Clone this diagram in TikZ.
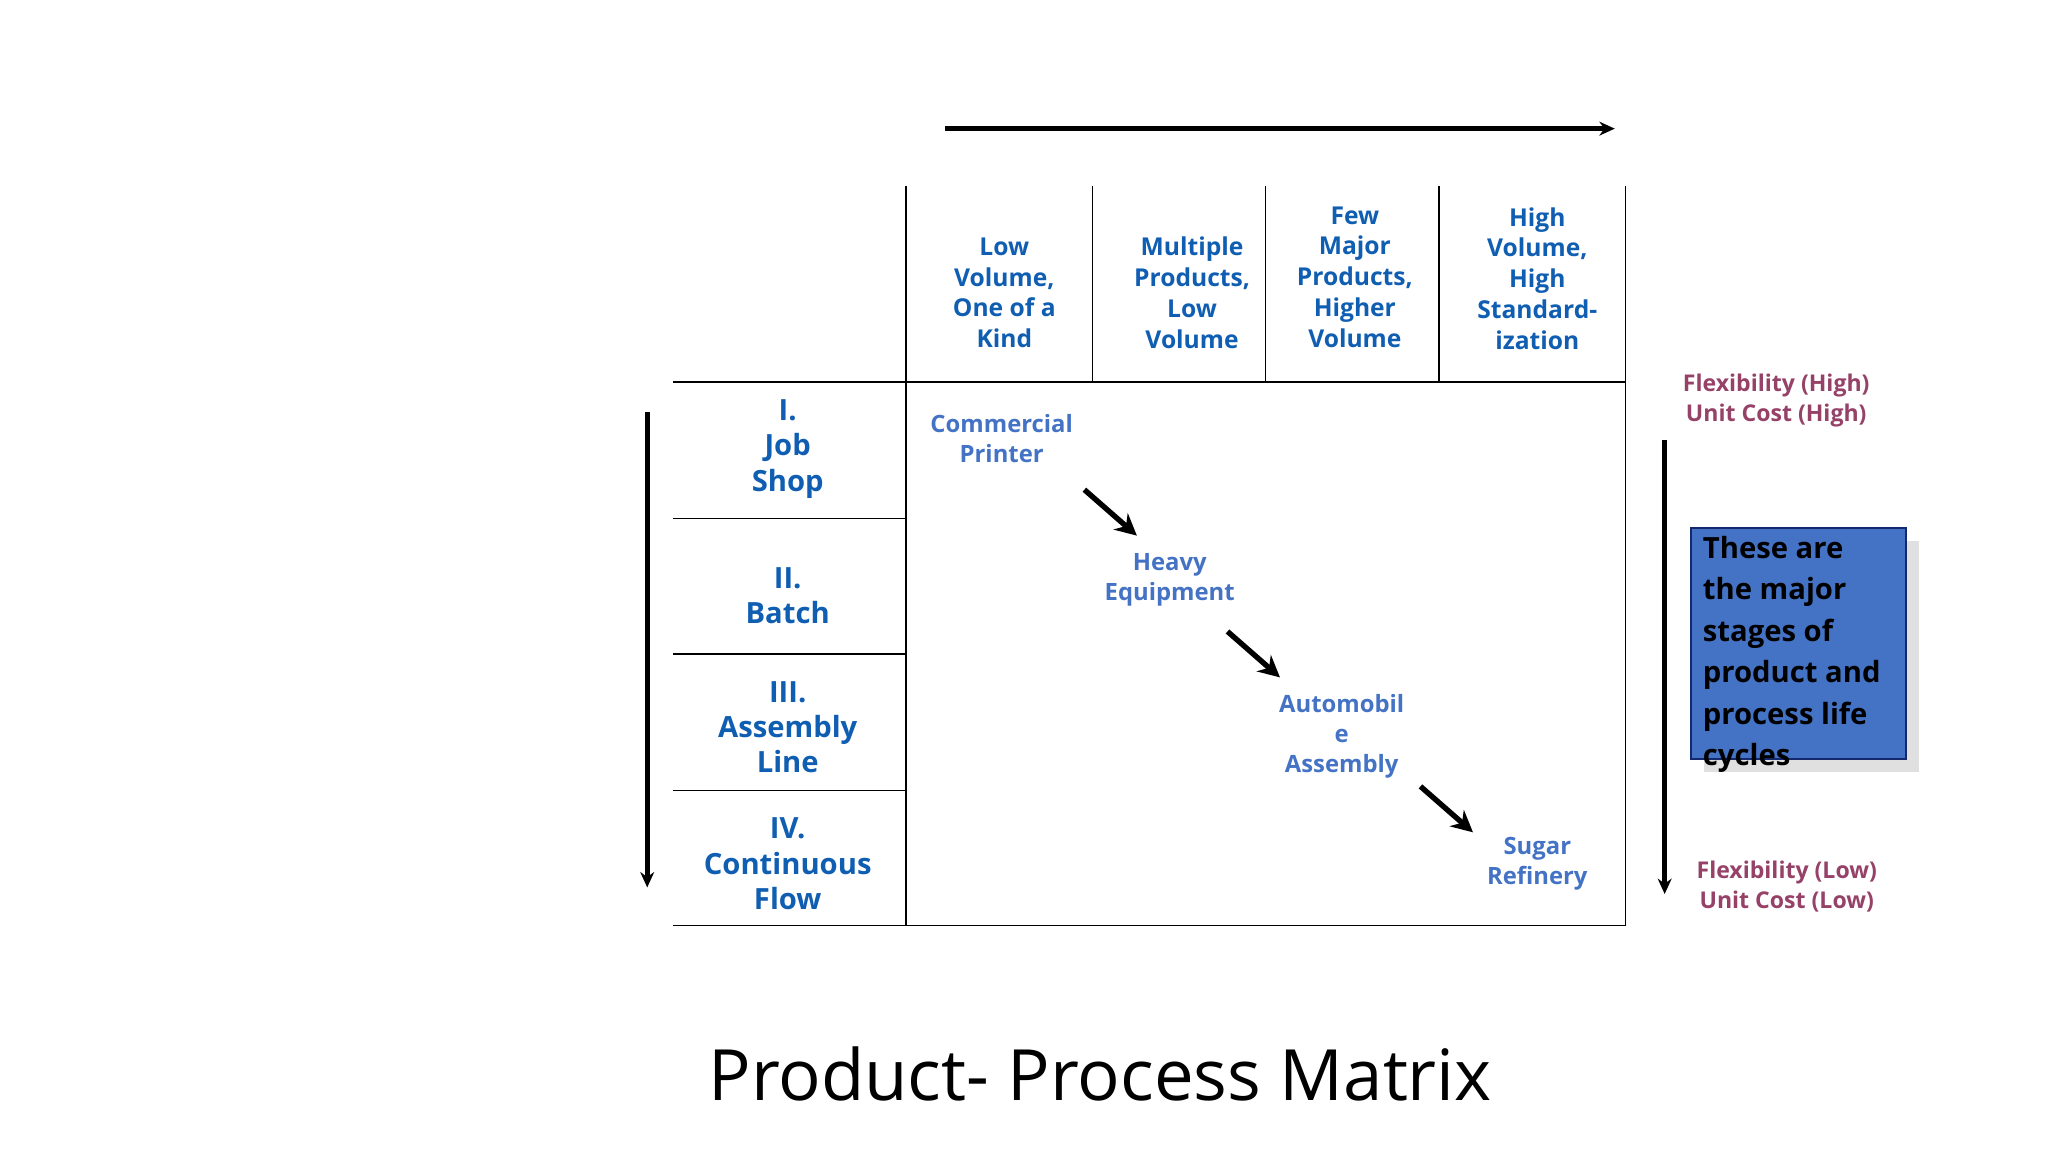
\documentclass[tikz,border=0pt]{standalone}
\usepackage{fontspec}
\setmainfont{Open Sans}
\usetikzlibrary{arrows.meta}
\definecolor{headblue}{RGB}{16,94,178}
\definecolor{itemblue}{RGB}{68,114,196}
\definecolor{flexred}{RGB}{150,66,104}
\definecolor{boxblue}{RGB}{68,114,196}
\definecolor{boxline}{RGB}{20,40,110}
\tikzset{
  head/.style={text=headblue,font=\fontsize{16}{20}\selectfont\bfseries,align=center},
  stage/.style={text=headblue,font=\fontsize{19}{23}\selectfont\bfseries,align=center},
  item/.style={text=itemblue,font=\fontsize{15.5}{19.5}\selectfont\bfseries,align=center},
  flex/.style={text=flexred,font=\fontsize{15}{19.5}\selectfont\bfseries,align=center},
  bigarrow/.style={line width=3pt,-{Stealth[length=10pt,width=9pt]}},
  steparrow/.style={line width=3.5pt,-{Stealth[length=14pt,width=14pt]}}
}
\begin{document}
\begin{tikzpicture}[x=0.03cm,y=-0.03cm]
  \useasboundingbox (0,0) rectangle (1560,878);
  % header columns
  \foreach \x in {690,832,964,1096,1238}
    \draw[line width=1pt] (\x,142) -- (\x,291);
  \draw[line width=1pt] (690,291) rectangle (1238,705);
  \foreach \y in {291,395,498,602,705}
    \draw[line width=1pt] (513,\y) -- (690,\y);
  % column heads
  \node[head] (lowvol) at (765,223) {Low\\Volume,\\One of a\\Kind};
  \node[head] (multi) at (908,223) {Multiple\\Products,\\Low\\Volume};
  \node[head] (few) at (1032,211) {Few\\Major\\Products,\\Higher\\Volume};
  \node[head] (high) at (1171,212) {High\\Volume,\\High\\Standard-\\ization};
  % stages
  \node[stage] (job) at (600,342) {I.\\Job\\Shop};
  \node[stage] (batch) at (600,454) {II.\\Batch};
  \node[stage] (assy) at (600,554) {III.\\Assembly\\Line};
  \node[stage] (flow) at (600,658) {IV.\\Continuous\\Flow};
  % examples on the diagonal
  \node[item] (printer) at (763,334) {Commercial\\Printer};
  \node[item] (heavy) at (891,442) {Heavy\\Equipment};
  \node[item] (auto) at (1022,561) {Automobil\\e\\Assembly};
  \node[item] (sugar) at (1171,658) {Sugar\\Refinery};
  \coordinate (s1) at (826,373); \coordinate (e1) at (866,408);
  \coordinate (s2) at (935,481); \coordinate (e2) at (975,516);
  \coordinate (s3) at (1082,599); \coordinate (e3) at (1122,634);
  \draw[steparrow] (s1) -- (e1);
  \draw[steparrow] (s2) -- (e2);
  \draw[steparrow] (s3) -- (e3);
  % long arrows
  \coordinate (topL) at (720,98); \coordinate (topR) at (1230,98);
  \coordinate (leftT) at (493,314); \coordinate (leftB) at (493,676);
  \coordinate (rightT) at (1268,335); \coordinate (rightB) at (1268,681);
  \draw[bigarrow] (topL) -- (topR);
  \draw[bigarrow] (leftT) -- (leftB);
  \draw[bigarrow] (rightT) -- (rightB);
  % flexibility labels
  \node[flex] (flexhigh) at (1353,305) {Flexibility (High)\\Unit Cost (High)};
  \node[flex] (flexlow) at (1361,675) {Flexibility (Low)\\Unit Cost (Low)};
  % note box
  \fill[black!12] (1298,412) rectangle (1462,588);
  \draw[boxline,fill=boxblue,line width=1.2pt] (1288,402) rectangle (1452,578);
  \node[anchor=north west,align=left,font=\fontsize{19}{27}\selectfont\bfseries] (note) at (1293,404)
    {These are\\the major\\stages of\\product and\\process life\\cycles};
  % title
  \node[font=\fontsize{46}{54}\selectfont] (title) at (838,818) {Product- Process Matrix};
\end{tikzpicture}
\end{document}
